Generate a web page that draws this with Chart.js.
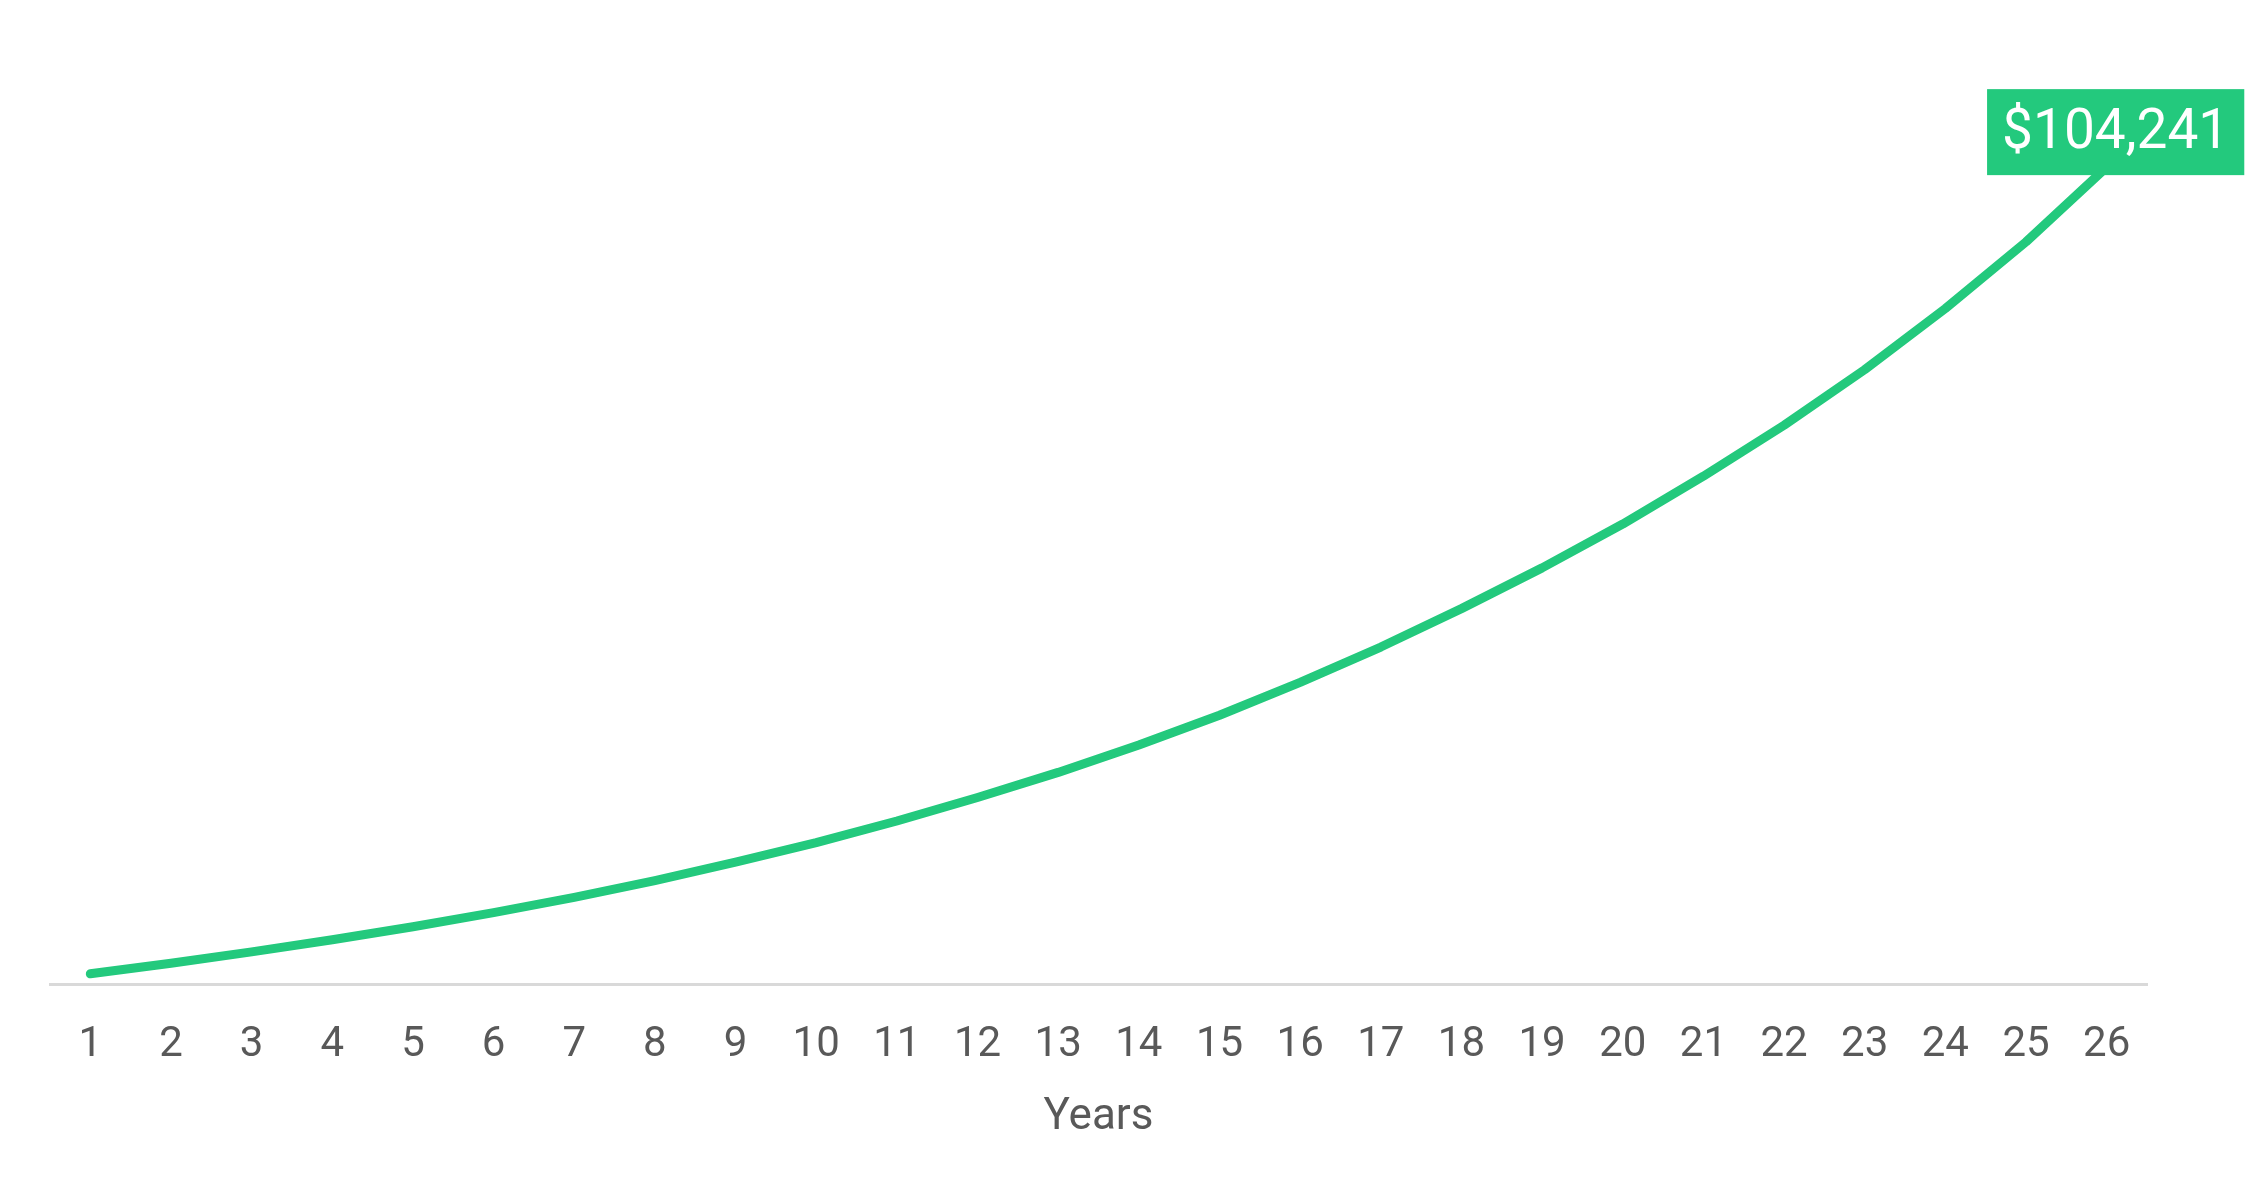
<!DOCTYPE html>
<html>
<head>
<meta charset="utf-8">
<script src="https://cdn.jsdelivr.net/npm/chart.js@4.4.1/dist/chart.umd.min.js"></script>
<style>
  html, body { margin: 0; padding: 0; background: #fff; }
  #wrap { width: 2266px; height: 1187px; position: relative; }
</style>
</head>
<body>
<div id="wrap"><canvas id="growthChart"></canvas></div>
<script>
const years = ["1","2","3","4","5","6","7","8","9","10","11","12","13","14","15","16","17","18","19","20","21","22","23","24","25","26"]
const balance = [1300, 2650, 4100, 5650, 7300, 9100, 11050, 13200, 15550, 18050, 20800, 23800, 27000, 30500, 34300, 38500, 43000, 47900, 53100, 58700, 64800, 71300, 78400, 86200, 94700, 104241]
const axisTitle = "Years"

const green = "#23c97d"

// Draws the final balance in a green tag over the last point
const endLabel = {
  id: "endLabel",
  afterDraw(chart) {
    const meta = chart.getDatasetMeta(0)
    const last = meta.data[meta.data.length - 1]
    if (!last) return
    const ctx = chart.ctx
    const text = "$" + balance[balance.length - 1].toLocaleString("en-US")
    ctx.save()
    ctx.font = "55px Roboto"
    const w = ctx.measureText(text).width + 30
    const h = 86
    const cx = last.x + 9
    const bottom = last.y + 8
    ctx.fillStyle = green
    ctx.fillRect(cx - w / 2, bottom - h, w, h)
    ctx.fillStyle = "#fff"
    ctx.textAlign = "center"
    ctx.textBaseline = "middle"
    ctx.fillText(text, cx, bottom - h / 2 + 2)
    ctx.restore()
  }
}

new Chart(document.getElementById("growthChart"), {
  type: "line",
  data: {
    labels: years,
    datasets: [{
      data: balance,
      borderColor: green,
      borderWidth: 9,
      borderCapStyle: "round",
      borderJoinStyle: "round",
      tension: 0,
      pointRadius: 0,
      fill: false
    }]
  },
  options: {
    responsive: true,
    maintainAspectRatio: false,
    animation: false,
    layout: {
      padding: { left: 50, right: 119, top: 122, bottom: 47 }
    },
    plugins: {
      legend: { display: false },
      tooltip: { enabled: false }
    },
    scales: {
      x: {
        offset: true,
        grid: { display: false, drawTicks: false },
        border: { display: true, color: "#d9d9d9", width: 3 },
        ticks: {
          color: "#595959",
          padding: 40,
          maxRotation: 0,
          autoSkip: false,
          font: { family: "Roboto", size: 42, lineHeight: 1 }
        },
        title: {
          display: true,
          text: axisTitle,
          color: "#595959",
          padding: { top: -10, bottom: 0 },
          font: { family: "Roboto", size: 44, lineHeight: 1 }
        }
      },
      y: {
        display: false,
        min: 0,
        max: 110000
      }
    }
  },
  plugins: [endLabel]
})
</script>
</body>
</html>
